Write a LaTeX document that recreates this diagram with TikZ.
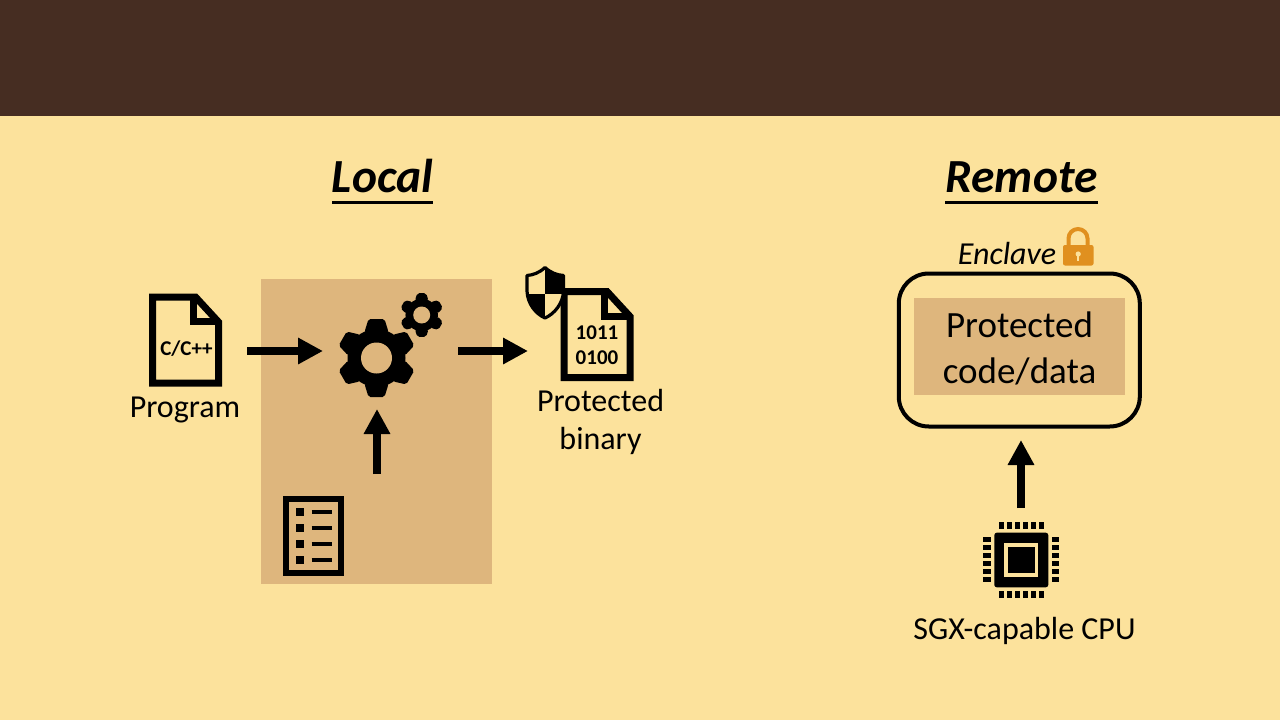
\documentclass[tikz,border=0pt]{standalone}
\usepackage{fontspec}
\setmainfont{Carlito}
\usepackage{tikz}
\usetikzlibrary{arrows.meta}

\definecolor{slidebg}{HTML}{FCE29C}
\definecolor{bandbrown}{HTML}{462D22}
\definecolor{paneltan}{HTML}{DEB67D}
\definecolor{lockorange}{HTML}{E0901F}

\newcommand{\shieldpath}{(545,267.5) .. controls (539,273) and (533,275) .. (527,275.5) -- (527,291) .. controls (527.5,304) and (536,314) .. (545,318) .. controls (554,314) and (563,304) .. (563.5,291) -- (563.5,275.5) .. controls (557,275) and (551,273) .. (545,267.5) -- cycle}

\tikzset{
    label32/.style={font=\fontsize{32}{32}\selectfont, inner sep=0pt, text=black},
    label37/.style={font=\fontsize{37}{37}\selectfont, inner sep=0pt, text=black},
    title/.style={font=\fontsize{47.5}{47.5}\selectfont\bfseries\itshape, inner xsep=0pt, inner ysep=0pt, text height=31pt, text depth=0pt},
    docbold/.style={font=\fontsize{21}{21}\selectfont\bfseries, inner sep=0pt},
    bigarrow/.style={line width=8pt, -{Triangle[length=25pt,width=25pt]}},
    pics/docicon/.style={code={
        \draw [line width=7pt, miter limit=3, fill=slidebg] (-33,-43) -- (10,-43) -- (33,-18) -- (33,43) -- (-33,43) -- cycle;
        \draw [line width=7pt] (7.5,-43) -- (7.5,-18.5) -- (33,-18.5);
    }},
    pics/gearicon/.style={code={
        \foreach \ang in {0,60,...,300} {
            \fill [rotate=\ang, rounded corners=2pt] (-12,-26) -- (-8,-39) -- (8,-39) -- (12,-26) -- cycle;
        }
        \fill (0,0) circle (29);
    }},
}

\begin{document}
\begin{tikzpicture}[x=1pt, y=-1pt]
    \useasboundingbox (0,0) rectangle (1280,720);
    \fill [slidebg] (0,0) rectangle (1280,720);
    \fill [bandbrown] (0,0) rectangle (1280,116);
    \fill [paneltan] (261,279) rectangle (492,584);

    % titles
    \node[title] at (382.5,176.5) (local) {Local};
    \node[title] at (1021.5,176.5) (remote) {Remote};
    \draw [line width=2.5pt] (332,202.5) -- (433,202.5);
    \draw [line width=2.5pt] (945,202.5) -- (1098,202.5);

    % local side
    \pic at (185.5,340) {docicon};
    \node[docbold] at (186.5,349) (cpp) {C/C++};
    \node[label32] at (185,410) (program) {Program};

    \pic at (376.5,358) {gearicon};
    \fill [paneltan] (376.5,358) circle (15.5);
    \pic [scale=0.56] at (421.7,315) {gearicon};
    \fill [paneltan] (421.7,315) circle (8.5);

    \pic at (597,334.5) {docicon};
    \node[docbold] at (597,332.5) (bits1) {1011};
    \node[docbold] at (597,358) (bits2) {0100};
    \fill [slidebg] \shieldpath;
    \begin{scope}
        \clip \shieldpath;
        \fill (545,260) rectangle (570,294);
        \fill (520,294) rectangle (545,325);
    \end{scope}
    \draw [line width=3.2pt, line join=round] \shieldpath;
    \node[label32] at (600.5,400.5) (protected) {Protected};
    \node[label32] at (600.5,441) (binary) {binary};

    \draw [line width=6pt, fill=paneltan] (285.7,498.7) rectangle (341.3,572.7);
    \foreach \yy in {511.7,527.7,543.7,559.7} {
        \fill (295.7,\yy-4) rectangle (303.7,\yy+4);
        \draw [line width=4pt] (311.7,\yy) -- (331.7,\yy);
    }

    \coordinate (progout) at (247,351);
    \coordinate (gearin) at (323,351);
    \coordinate (gearout) at (458,351);
    \coordinate (binin) at (528,351);
    \coordinate (listout) at (377,474);
    \coordinate (gearbot) at (377,409);
    \draw [bigarrow] (progout) -- (gearin);
    \draw [bigarrow] (gearout) -- (binin);
    \draw [bigarrow] (listout) -- (gearbot);

    % remote side
    \node[font=\fontsize{32}{32}\selectfont\itshape, inner sep=0pt] at (1007,253.5) (enclavelabel) {Enclave};
    \draw [lockorange, line width=4pt] (1068.5,247) -- (1068.5,238.5) arc[start angle=180, end angle=360, radius=9.5] -- (1087.5,247);
    \fill [lockorange, rounded corners=2pt] (1063,245) rectangle (1093.5,265.5);
    \fill [slidebg] (1078.2,254) circle (2.6);
    \fill [slidebg] (1077.2,254) rectangle (1079.2,260.5);

    \node[draw, line width=4pt, rounded corners=30pt, minimum width=241pt, minimum height=153pt, inner sep=0pt] at (1019.3,350) (enclave) {};
    \node[fill=paneltan, minimum width=211pt, minimum height=97pt, inner sep=0pt] at (1019.5,346.7) (codebox) {};
    \node[label37] at (1019.5,325) (codeline1) {Protected};
    \node[label37] at (1019.5,371) (codeline2) {code/data};

    \coordinate (cputop) at (1021,508);
    \coordinate (enclavebot) at (1021,440);
    \draw [bigarrow] (cputop) -- (enclavebot);

    \fill [rounded corners=2.5pt] (994.3,532.7) rectangle (1048.3,587.3);
    \draw [slidebg, line width=3.5pt] (1006,545) rectangle (1036.7,575);
    \foreach \k in {-20,-12,-4,4,12,20} {
        \fill (1021.3+\k-2.5,522) rectangle (1021.3+\k+2.5,529);
        \fill (1021.3+\k-2.5,591) rectangle (1021.3+\k+2.5,598);
        \fill (983.3,559.7+\k-2.5) rectangle (990.7,559.7+\k+2.5);
        \fill (1052.3,559.7+\k-2.5) rectangle (1059.3,559.7+\k+2.5);
    }
    \node[label32] at (1024.5,630.5) (cpulabel) {SGX-capable CPU};
\end{tikzpicture}
\end{document}
